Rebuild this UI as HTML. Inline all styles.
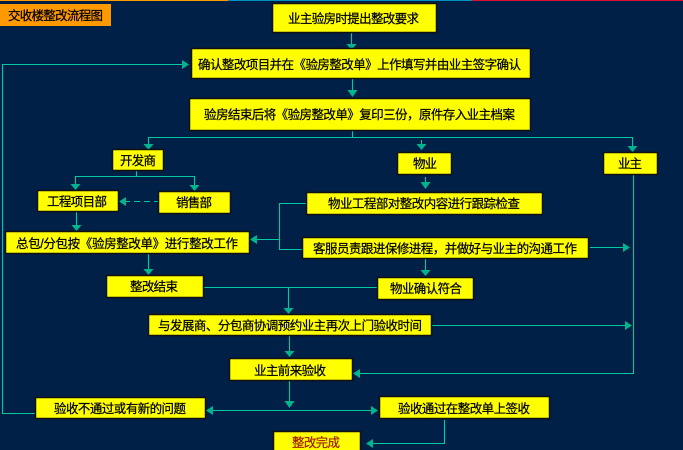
<!DOCTYPE html>
<html><head><meta charset="utf-8">
<style>
html,body{margin:0;padding:0;background:#002048;width:683px;height:450px;overflow:hidden}
svg{display:block}
text{font-family:"Liberation Sans","WenQuanYi Zen Hei","Noto Sans CJK SC",sans-serif;font-size:12.5px;fill:#000;stroke:#000;stroke-width:.25}
.b{fill:#ffff00;stroke:#111;stroke-width:1.5}
.l{fill:none;stroke:#00c8a0;stroke-width:1.1}
.a{fill:#00b48e}
</style></head><body>
<svg width="683" height="450" viewBox="0 0 683 450" xmlns="http://www.w3.org/2000/svg">
<rect width="683" height="450" fill="#002048"/>
<rect x="0" y="0" width="228" height="1" fill="#ff9900"/>
<rect x="228" y="0" width="244" height="1" fill="#0090c0"/>
<rect x="472" y="0" width="211" height="1" fill="#e01030"/>
<rect x="0" y="4" width="111" height="22" fill="#ff9900"/>
<text x="8" y="20" textLength="95">交收楼整改流程图</text>

<!-- connectors -->
<g class="l">
<path d="M351.5 32V46M352.5 79V94"/>
<path d="M352.5 130V137.5M148.500 147V137.500H632.500V147M421.500 140V147"/>
<path d="M35 413.500H2.500V64.500H184"/>
<path d="M136.500 170V176.500M75.500 187V176.500H194.500V187"/>
<path d="M160 201.500H124" stroke-dasharray="6 4"/>
<path d="M425.500 177V185"/>
<path d="M306 203.500H279.500V249.500H302M279.500 239.500H255"/>
<path d="M76.500 212V228M148.500 254V272"/>
<path d="M203 287.500H377M288.500 287.500V311"/>
<path d="M590 247.500H625"/>
<path d="M425.500 259V273"/>
<path d="M633.500 174V373.500H358"/>
<path d="M431 325.500H627"/>
<path d="M289.500 336V354M289.500 381V404"/>
<path d="M211 410.500H373"/>
<path d="M444.500 420V443.500H371"/>
</g>
<g class="a">
<path d="M346.500 44H356.500L351.500 50Z"/>
<path d="M347.500 90H357.500L352.500 97Z"/>
<path d="M143.500 144H153.500L148.500 150Z"/>
<path d="M416.500 144H426.500L421.500 150Z"/>
<path d="M627.500 146H637.500L632.500 152Z"/>
<path d="M182 60V69L189 64.500Z"/>
<path d="M70.500 184H80.500L75.500 190Z"/>
<path d="M189.500 185H199.500L194.500 191Z"/>
<path d="M126 197V206L119 201.500Z"/>
<path d="M420.500 182H430.500L425.500 189Z"/>
<path d="M257 235V244L250 239.500Z"/>
<path d="M71.500 225H81.500L76.500 231Z"/>
<path d="M143.500 269H153.500L148.500 275Z"/>
<path d="M283.500 308H293.500L288.500 314Z"/>
<path d="M623 243V252L630 247.500Z"/>
<path d="M420.500 270H430.500L425.500 276Z"/>
<path d="M360 369V378L353 373.500Z"/>
<path d="M625 321V330L632 325.500Z"/>
<path d="M284.500 351H294.500L289.500 357Z"/>
<path d="M284.500 401H294.500L289.500 408Z"/>
<path d="M213 406V415L206 410.500Z"/>
<path d="M371 406V415L378 410.500Z"/>
<path d="M373 439V448L366 443.500Z"/>
</g>

<!-- boxes -->
<g>
<rect class="b" x="272.500" y="3.500" width="164" height="29"/>
<text x="288" y="23" textLength="131">业主验房时提出整改要求</text>
<rect class="b" x="191.500" y="48.500" width="339" height="30"/>
<text x="198" y="69" textLength="323">确认整改项目并在《验房整改单》上作填写并由业主签字确认</text>
<rect class="b" x="189.500" y="98.500" width="341" height="32"/>
<text x="204" y="119" textLength="311">验房结束后将《验房整改单》复印三份，原件存入业主档案</text>
<rect class="b" x="112.500" y="149.500" width="51" height="21"/>
<text x="120" y="165" textLength="36">开发商</text>
<rect class="b" x="397.500" y="152.500" width="54" height="22"/>
<text x="413" y="168" textLength="24">物业</text>
<rect class="b" x="603.500" y="152.500" width="54" height="22"/>
<text x="618" y="168" textLength="24">业主</text>
<rect class="b" x="37.500" y="190.500" width="81" height="21"/>
<text x="47" y="206" textLength="60">工程项目部</text>
<rect class="b" x="158.500" y="191.500" width="72" height="22"/>
<text x="176" y="207" textLength="36">销售部</text>
<rect class="b" x="306.500" y="192.500" width="236" height="22"/>
<text x="328" y="208" textLength="192">物业工程部对整改内容进行跟踪检查</text>
<rect class="b" x="5.500" y="231.500" width="244" height="22"/>
<text x="16" y="248" textLength="222">总包/分包按《验房整改单》进行整改工作</text>
<rect class="b" x="302.500" y="237.500" width="286" height="21"/>
<text x="313" y="253" textLength="264">客服员责跟进保修进程，并做好与业主的沟通工作</text>
<rect class="b" x="106.500" y="275.500" width="97" height="22"/>
<text x="130" y="291" textLength="48">整改结束</text>
<rect class="b" x="377.500" y="277.500" width="96" height="22"/>
<text x="390" y="293" textLength="72">物业确认符合</text>
<rect class="b" x="148.500" y="314.500" width="283" height="21"/>
<text x="158" y="330" textLength="264">与发展商、分包商协调预约业主再次上门验收时间</text>
<rect class="b" x="229.500" y="358.500" width="123" height="22"/>
<text x="254" y="375" textLength="72">业主前来验收</text>
<rect class="b" x="35.500" y="397.500" width="170" height="21"/>
<text x="54" y="413" textLength="132">验收不通过或有新的问题</text>
<rect class="b" x="379.500" y="396.500" width="170" height="22"/>
<text x="398" y="413" textLength="132">验收通过在整改单上签收</text>
<rect class="b" x="273.500" y="431.500" width="87" height="24"/>
<text x="292" y="447" textLength="48" style="fill:#a02000;stroke:#a02000">整改完成</text>
</g>
</svg>
</body></html>
